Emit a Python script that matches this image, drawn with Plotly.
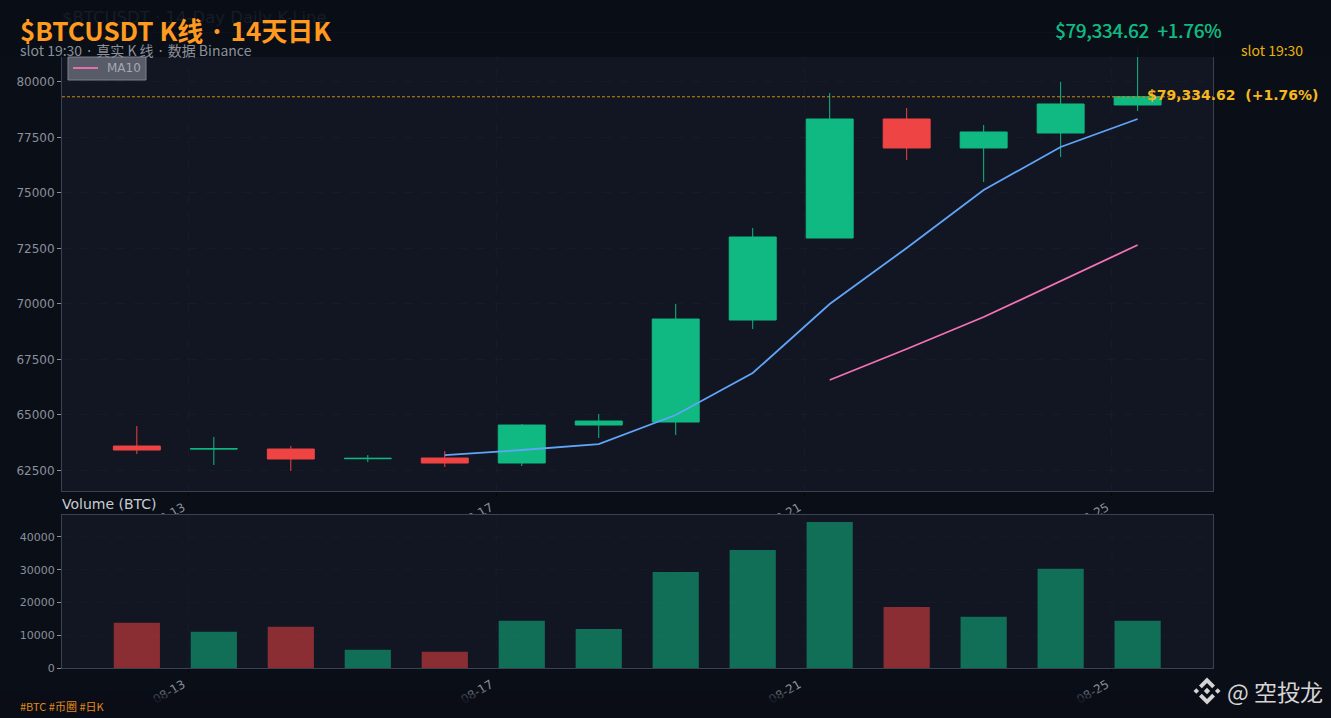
# btc_kline.py
import plotly.graph_objects as go
from plotly.subplots import make_subplots

W, H = 1331, 718

dates = ["2025-08-12 08:00", "2025-08-13 08:00", "2025-08-14 08:00", "2025-08-15 08:00",
         "2025-08-16 08:00", "2025-08-17 08:00", "2025-08-18 08:00", "2025-08-19 08:00",
         "2025-08-20 08:00", "2025-08-21 08:00", "2025-08-22 08:00", "2025-08-23 08:00",
         "2025-08-24 08:00", "2025-08-25 08:00"]
opens = [63602, 63467, 63467, 63030, 63061, 62836, 64548, 64683, 69278, 72972, 78333, 77027, 77702, 78964]
highs = [64503, 64007, 63602, 63196, 63377, 64593, 65043, 70001, 73423, 79504, 78829, 78063, 80000, 81600]
lows = [63241, 62746, 62476, 62881, 62656, 62701, 63962, 64097, 68873, 72972, 76486, 75495, 76621, 78694]
closes = [63422, 63480, 63017, 63048, 62836, 64548, 64728, 69323, 73017, 78333, 77027, 77748, 79009, 79334.62]
volumes = [13830, 11090, 12620, 5600, 4990, 14450, 11900, 29300, 36030, 44570, 18620, 15660, 30320, 14450]

ma5 = [None, None, None, None, 63196, 63422, 63692, 64998, 66891, 70001, 72522, 75135, 77072, 78333]
ma10 = [None] * 9 + [66575, 67972, 69413, 71035, 72657]

last_price = 79334.62
xticks = ["2025-08-13", "2025-08-17", "2025-08-21", "2025-08-25"]
xticklabels = ["08-13", "08-17", "08-21", "08-25"]
price_ticks = [62500, 65000, 67500, 70000, 72500, 75000, 77500, 80000]
vol_ticks = [0, 10000, 20000, 30000, 40000]

BG = "#0a0e17"
PANEL = "#111622"
SPINE = "#3a4150"
GRID = "rgba(120,130,150,0.05)"
TICK = "#8b909a"
GREEN = "#10b981"
RED = "#ef4444"
ORANGE = "#ff9a1f"
GOLD = "#eab308"
PINK = "#f472b6"
CN = "Noto Sans CJK JP"
MPL = "DejaVu Sans"


def px(x):
    return x / W


def py(y):
    return 1 - y / H


def path(points):
    return "M " + " L ".join(f"{px(a)},{py(b)}" for a, b in points) + " Z"


vol_colors = [GREEN if c >= o else RED for o, c in zip(opens, closes)]

fig = make_subplots(rows=2, cols=1)

fig.add_trace(go.Candlestick(x=dates, open=opens, high=highs, low=lows, close=closes,
                             increasing=dict(line=dict(color=GREEN, width=1), fillcolor=GREEN),
                             decreasing=dict(line=dict(color=RED, width=1), fillcolor=RED),
                             whiskerwidth=0), row=1, col=1)
fig.add_trace(go.Scatter(x=dates, y=ma5, mode="lines", name="MA5",
                         line=dict(color="#60a5fa", width=1.8)), row=1, col=1)
fig.add_trace(go.Scatter(x=dates, y=ma10, mode="lines", name="MA10",
                         line=dict(color=PINK, width=1.8)), row=1, col=1)
fig.add_trace(go.Bar(x=dates, y=volumes, marker=dict(color=vol_colors, opacity=0.55, line_width=0),
                     width=0.6 * 86400000), row=2, col=1)

x_range = ["2025-08-11 08:40", "2025-08-26 07:30"]
vol_range = [0, 46700]
axis_style = dict(showline=True, linecolor=SPINE, linewidth=1, mirror=True, gridcolor=GRID, griddash="dash",
                  gridwidth=1, ticks="outside", ticklen=4, tickcolor=TICK, tickfont=dict(family=MPL, size=12, color=TICK),
                  zeroline=False, automargin=False)
fig.update_xaxes(axis_style)
fig.update_yaxes(axis_style)
fig.update_xaxes(type="date", range=x_range, tickvals=xticks, ticktext=xticklabels, tickangle=-30,
                 ticklabelshift=-5, rangeslider_visible=False, tickcolor="#05070c")
fig.update_yaxes(row=1, col=1, range=[61576, 82207], tickvals=price_ticks, ticktext=[str(v) for v in price_ticks])
fig.update_yaxes(row=2, col=1, range=vol_range, tickvals=vol_ticks, ticktext=[str(v) for v in vol_ticks],
                 showgrid=False, tickfont=dict(size=11))
fig.update_xaxes(row=2, col=1, showgrid=False)

fig.update_layout(width=W, height=H, margin=dict(l=0, r=0, t=0, b=0), autosize=False, showlegend=False,
                  paper_bgcolor=BG, plot_bgcolor=PANEL, boxgap=0.39, boxgroupgap=0,
                  xaxis=dict(domain=[px(62), px(1213)]), xaxis2=dict(domain=[px(62), px(1213)]),
                  yaxis=dict(domain=[py(491), py(33)]), yaxis2=dict(domain=[py(668), py(515)]))

shapes = [
    # volume panel drawn inside its own subplot so it hides the upper date labels
    dict(type="rect", xref="x2", yref="y2", x0=x_range[0], x1=x_range[1], y0=vol_range[0], y1=vol_range[1],
         layer="between", fillcolor=PANEL, line_width=0),
    # dashed line at the last price
    dict(type="line", xref="x domain", yref="y", x0=0, x1=1, y0=last_price, y1=last_price, layer="above",
         line=dict(color="#c98a12", width=1, dash="3px,2px")),
    # header band
    dict(type="rect", xref="paper", yref="paper", x0=0, x1=1, y0=py(57), y1=1, layer="above",
         fillcolor="rgba(10,14,23,0.93)", line_width=0),
    # legend box, its top is under the header
    dict(type="rect", xref="paper", yref="paper", x0=px(68), x1=px(146), y0=py(80), y1=py(57), layer="above",
         fillcolor="rgba(100,104,116,0.85)", line=dict(color="#7c808a", width=1)),
    dict(type="line", xref="paper", yref="paper", x0=px(73), x1=px(98), y0=py(68), y1=py(68), layer="above",
         line=dict(color=PINK, width=1.8)),
    # footer fade over the lower date labels
    dict(type="rect", xref="paper", yref="paper", x0=0, x1=1, y0=py(694), y1=py(690), layer="above",
         fillcolor="rgba(10,14,23,0.3)", line_width=0),
    dict(type="rect", xref="paper", yref="paper", x0=0, x1=1, y0=py(698), y1=py(694), layer="above",
         fillcolor="rgba(10,14,23,0.6)", line_width=0),
    dict(type="rect", xref="paper", yref="paper", x0=0, x1=1, y0=0, y1=py(698), layer="above",
         fillcolor="rgba(10,14,23,0.88)", line_width=0),
]
for v in vol_ticks[1:]:
    shapes.append(dict(type="line", xref="x2", yref="y2", x0=x_range[0], x1=x_range[1], y0=v, y1=v, layer="between",
                       line=dict(color=GRID, width=1, dash="dash")))
for d in xticks:
    shapes.append(dict(type="line", xref="x2", yref="y2", x0=d, x1=d, y0=vol_range[0], y1=vol_range[1], layer="between",
                       line=dict(color=GRID, width=1, dash="dash")))

# binance logo
cx, cy = 1207, 691
logo = "#d4d4d4"
shapes += [
    dict(type="path", xref="paper", yref="paper", fillcolor=logo, line_width=0, layer="above",
         path=path([(cx, cy - 3.2), (cx + 3.2, cy), (cx, cy + 3.2), (cx - 3.2, cy)])),
    dict(type="path", xref="paper", yref="paper", fillcolor=logo, line_width=0, layer="above",
         path=path([(cx - 13.5, cy), (cx - 10.7, cy - 2.8), (cx - 7.9, cy), (cx - 10.7, cy + 2.8)])),
    dict(type="path", xref="paper", yref="paper", fillcolor=logo, line_width=0, layer="above",
         path=path([(cx + 13.5, cy), (cx + 10.7, cy - 2.8), (cx + 7.9, cy), (cx + 10.7, cy + 2.8)])),
    dict(type="path", xref="paper", yref="paper", fillcolor=logo, line_width=0, layer="above",
         path=path([(cx, cy - 13.5), (cx + 8, cy - 5.5), (cx + 5.2, cy - 2.7), (cx, cy - 7.9), (cx - 5.2, cy - 2.7), (cx - 8, cy - 5.5)])),
    dict(type="path", xref="paper", yref="paper", fillcolor=logo, line_width=0, layer="above",
         path=path([(cx, cy + 13.5), (cx + 8, cy + 5.5), (cx + 5.2, cy + 2.7), (cx, cy + 7.9), (cx - 5.2, cy + 2.7), (cx - 8, cy + 5.5)])),
]
fig.update_layout(shapes=shapes)


def label(text, x, y, size, color, family=CN, anchor="left", bold=False, shadow=None):
    if bold:
        text = f"<b>{text}</b>"
    font = dict(family=family, size=size, color=color)
    if shadow:
        font["shadow"] = shadow
    fig.add_annotation(text=text, xref="paper", yref="paper", x=px(x), y=py(y), xanchor=anchor, yanchor="middle",
                       showarrow=False, font=font, borderpad=0, borderwidth=0)


label("$BTCUSDT · 14-Day Daily K-Line", 62, 18, 16.5, "#171c27", MPL)
label("$BTCUSDT K线 · 14天日K", 20, 29.5, 26, ORANGE, bold=True)
label("slot 19:30 · 真实 K 线 · 数据 Binance", 20, 50, 14, "#8b909a")
label("$79,334.62  +1.76%", 1221, 29, 18.8, GREEN, anchor="right", shadow=f"0.4px 0 0 {GREEN}")
label("slot 19:30", 1303, 50, 14, GOLD, anchor="right")
label("$79,334.62  (+1.76%)", 1147, 95, 14, "#f5b81f", MPL, bold=True)
label("Volume (BTC)", 62, 504, 14, "#c9ccd2", MPL)
label("MA10", 107, 68, 12, "#a4a8b0", MPL)
label("#BTC #币圈 #日K", 20, 706, 11, "#e08a1a")
label("@ 空投龙", 1227, 691, 23, "#d4d4d4")

fig.write_html("out.html", config=dict(displayModeBar=False), post_script="document.body.style.margin='0';")
